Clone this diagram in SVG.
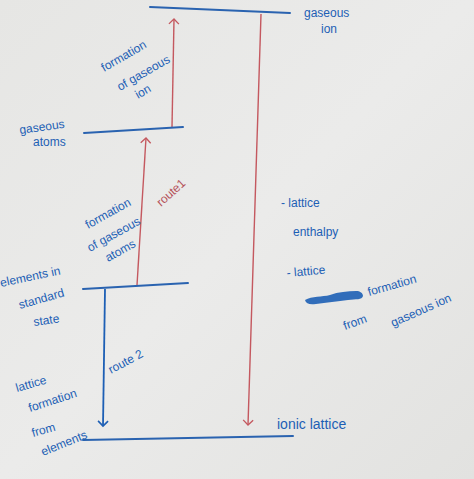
<svg xmlns="http://www.w3.org/2000/svg" width="474" height="479" viewBox="0 0 474 479">
  <defs>
    <linearGradient id="bg" x1="0" y1="0" x2="1" y2="1">
      <stop offset="0" stop-color="#e6e6e4"/>
      <stop offset="0.5" stop-color="#ebebea"/>
      <stop offset="1" stop-color="#e2e2e0"/>
    </linearGradient>
    <marker id="arrRed" markerWidth="12" markerHeight="12" refX="6" refY="6" orient="auto" markerUnits="userSpaceOnUse">
      <path d="M1,1 L6,6 L1,11" fill="none" stroke="#c4585f" stroke-width="1.3"/>
    </marker>
    <marker id="arrBlue" markerWidth="12" markerHeight="12" refX="6" refY="6" orient="auto" markerUnits="userSpaceOnUse">
      <path d="M1,1 L6,6 L1,11" fill="none" stroke="#1d5fb5" stroke-width="1.6"/>
    </marker>
    <style>
      .lvl { stroke: #2a63b0; stroke-width: 2; fill: none; stroke-linecap: round; }
      .red { stroke: #c4585f; stroke-width: 1.4; fill: none; }
      .blue { stroke: #1d5fb5; stroke-width: 1.8; fill: none; }
      text { font-family: "Liberation Sans", "DejaVu Sans", sans-serif; font-size: 12px; fill: #1d5fb5; }
      .rt { fill: #b5525a; }
    </style>
  </defs>
  <rect width="474" height="479" fill="url(#bg)"/>

  <g id="connectors">
    <line class="red" x1="172" y1="127" x2="174" y2="19" marker-end="url(#arrRed)"/>
    <line class="red" x1="137" y1="285" x2="146" y2="138" marker-end="url(#arrRed)"/>
    <line class="red" x1="261" y1="14" x2="248" y2="425" marker-end="url(#arrRed)"/>
    <line class="blue" x1="105" y1="289" x2="103" y2="426" marker-end="url(#arrBlue)"/>
  </g>

  <g id="gaseous-ion">
    <path class="lvl" d="M150,7 L290,13"/>
    <text x="304" y="17">gaseous</text>
    <text x="321" y="33">ion</text>
  </g>

  <g id="gaseous-atoms">
    <path class="lvl" d="M84,133 L183,127"/>
    <text x="20" y="134" transform="rotate(-8 20 134)">gaseous</text>
    <text x="33" y="146">atoms</text>
  </g>

  <g id="elements">
    <path class="lvl" d="M83,289 L188,283"/>
    <text x="1" y="287" transform="rotate(-12 1 287)">elements in</text>
    <text x="20" y="309" transform="rotate(-16 20 309)">standard</text>
    <text x="34" y="326" transform="rotate(-8 34 326)">state</text>
  </g>

  <g id="ionic-lattice">
    <path class="lvl" d="M83,440 L293,436"/>
    <text x="277" y="429" style="font-size:14px">ionic lattice</text>
  </g>

  <g id="label-gaseous-ion">
    <text x="104" y="72" transform="rotate(-30 104 72)">formation</text>
    <text x="120" y="91" transform="rotate(-30 120 91)">of gaseous</text>
    <text x="138" y="99" transform="rotate(-30 138 99)">ion</text>
  </g>

  <g id="label-gaseous-atoms">
    <text x="88" y="229" transform="rotate(-29 88 229)">formation</text>
    <text x="90" y="252" transform="rotate(-29 90 252)">of gaseous</text>
    <text x="108" y="262" transform="rotate(-29 108 262)">atoms</text>
  </g>

  <g id="label-route1">
    <text class="rt" x="161" y="207" transform="rotate(-42 161 207)">route1</text>
  </g>

  <g id="label-lattice-enthalpy">
    <text x="281" y="207">- lattice</text>
    <text x="293" y="236">enthalpy</text>
    <text x="287" y="277" transform="rotate(-5 287 277)">- lattice</text>
    <path d="M305,300 C312,296 322,297 330,295 C338,292 348,291 356,291 C360,291 363,293 363,296 C362,300 356,299 348,300 C338,301 326,303 316,304 C310,305 306,304 305,300 Z" fill="#1d5fb5" opacity="0.9"/>
    <text x="369" y="296" transform="rotate(-16 369 296)">formation</text>
    <text x="345" y="330" transform="rotate(-20 345 330)">from</text>
    <text x="393" y="327" transform="rotate(-24 393 327)">gaseous ion</text>
  </g>

  <g id="label-route2">
    <text x="111" y="374" transform="rotate(-28 111 374)">route 2</text>
    <text x="17" y="392" transform="rotate(-16 17 392)">lattice</text>
    <text x="30" y="412" transform="rotate(-18 30 412)">formation</text>
    <text x="33" y="437" transform="rotate(-16 33 437)">from</text>
    <text x="43" y="456" transform="rotate(-22 43 456)">elements</text>
  </g>
</svg>
